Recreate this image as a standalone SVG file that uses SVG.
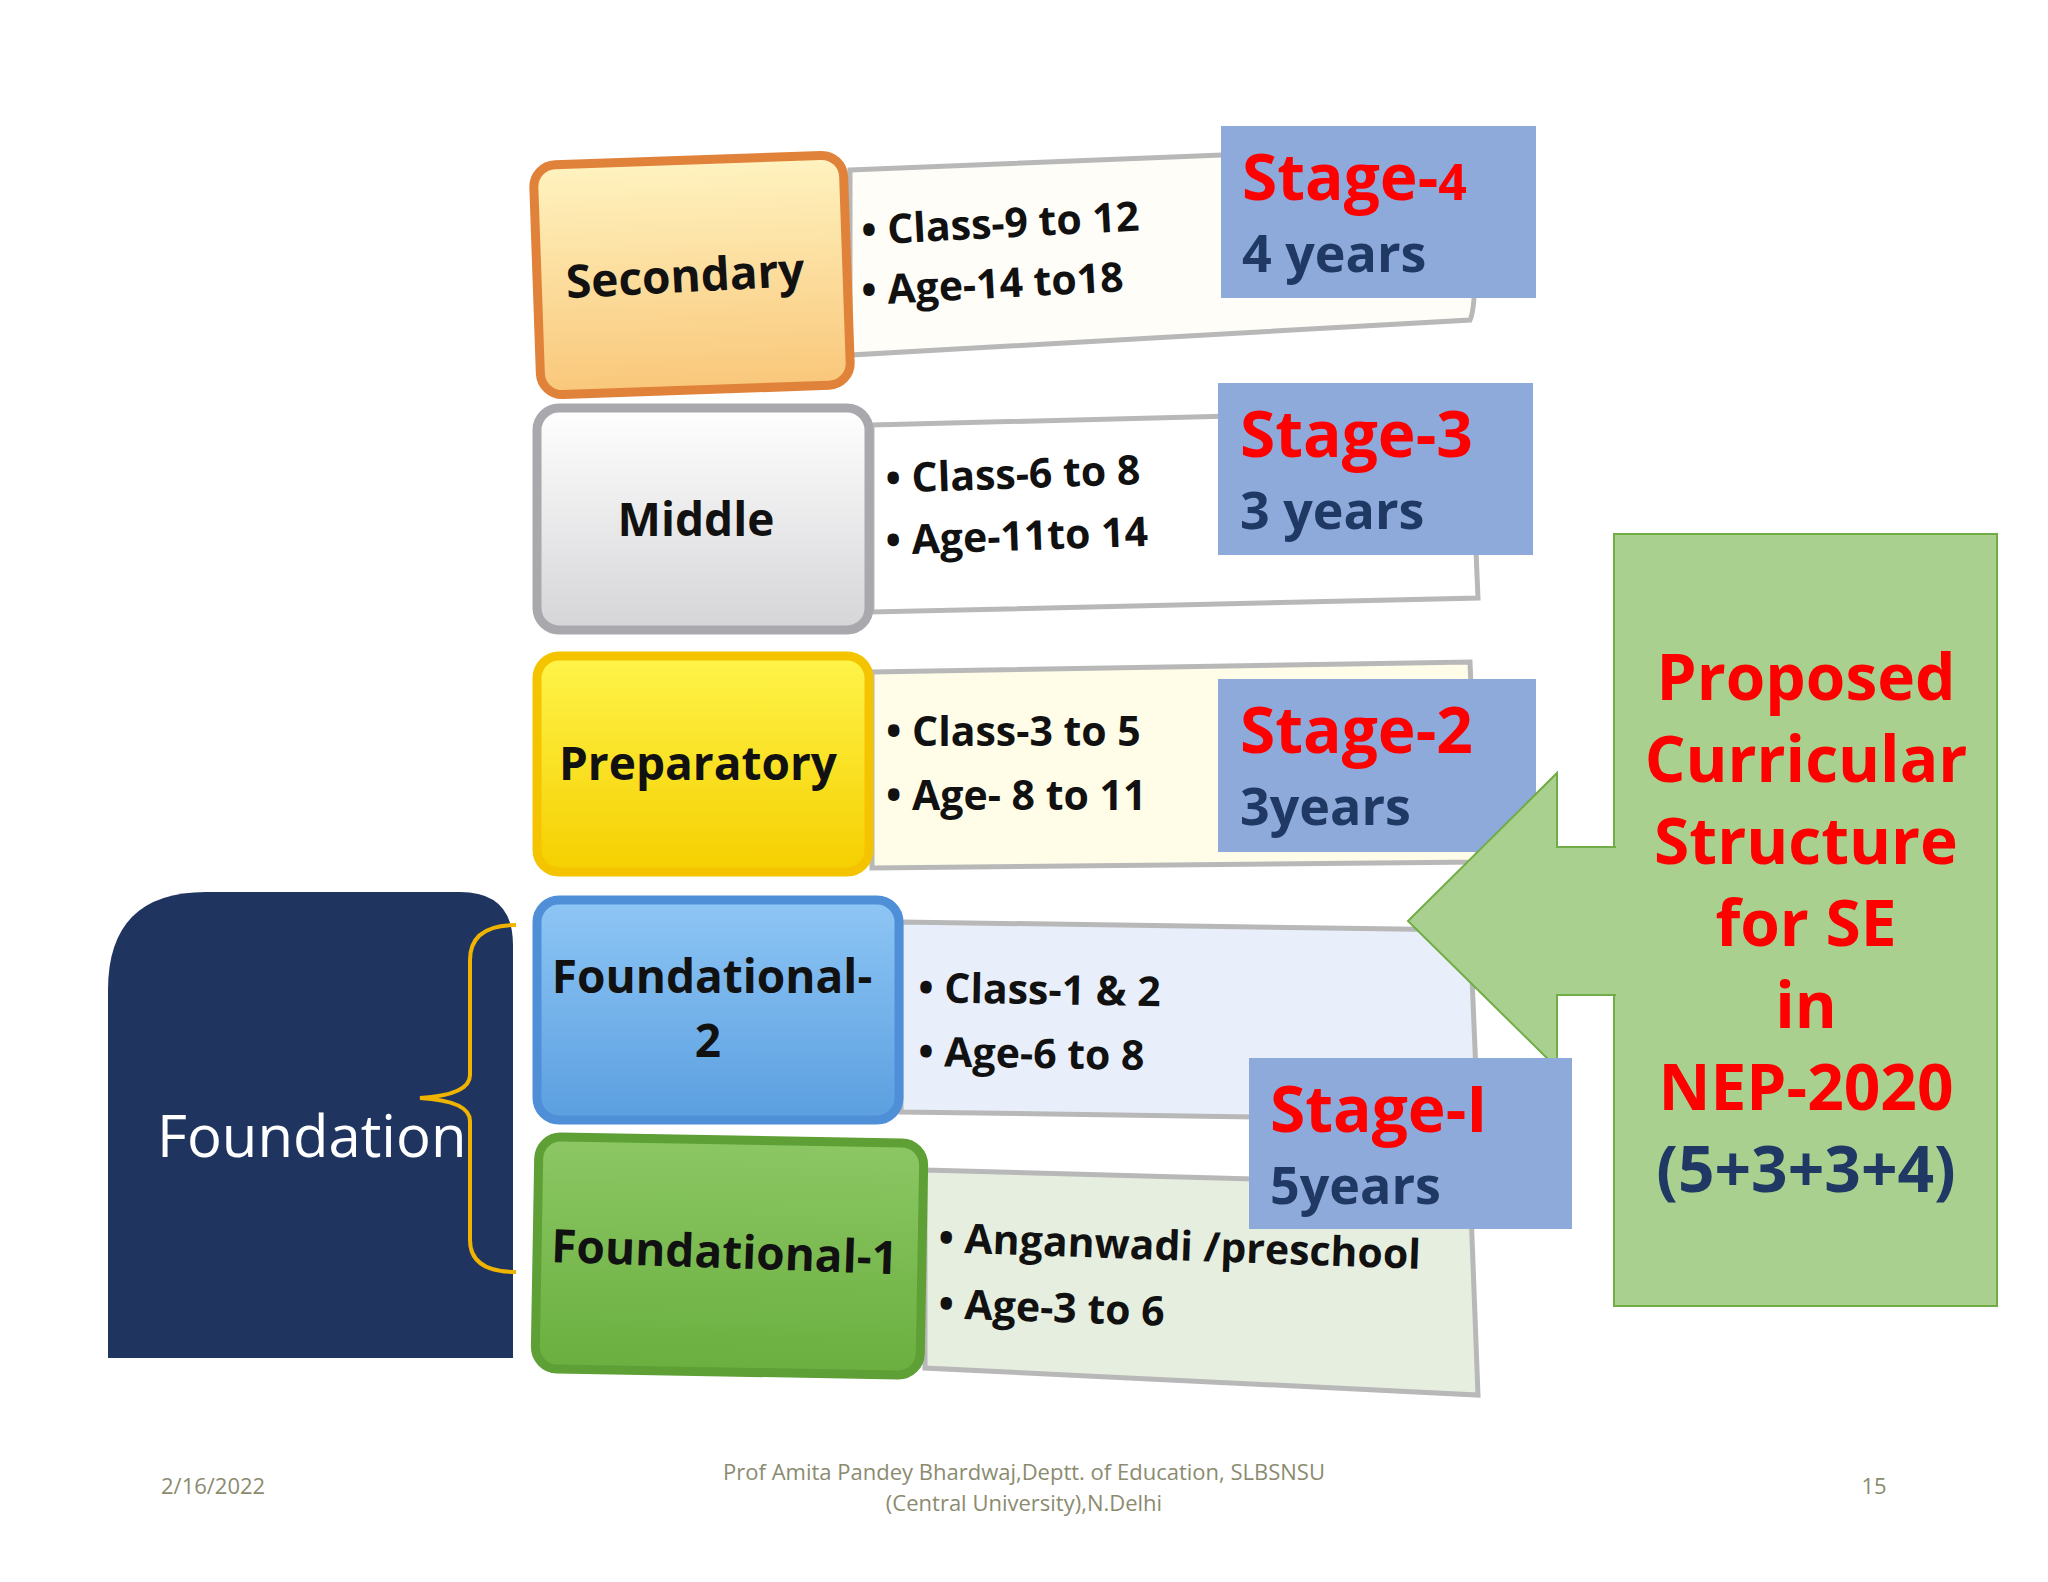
<svg xmlns="http://www.w3.org/2000/svg" width="2048" height="1582" viewBox="0 0 2048 1582">
<defs>
<linearGradient id="gOr" x1="0" y1="0" x2="0" y2="1"><stop offset="0" stop-color="#fff3c0"/><stop offset="1" stop-color="#f9c77a"/></linearGradient>
<linearGradient id="gGr" x1="0" y1="0" x2="0" y2="1"><stop offset="0" stop-color="#ffffff"/><stop offset="1" stop-color="#d5d5d8"/></linearGradient>
<linearGradient id="gYe" x1="0" y1="0" x2="0" y2="1"><stop offset="0" stop-color="#fff44a"/><stop offset="1" stop-color="#f5cf00"/></linearGradient>
<linearGradient id="gBl" x1="0" y1="0" x2="0" y2="1"><stop offset="0" stop-color="#8ec6f5"/><stop offset="1" stop-color="#5b9fe0"/></linearGradient>
<linearGradient id="gGn" x1="0" y1="0" x2="0" y2="1"><stop offset="0" stop-color="#8cc764"/><stop offset="1" stop-color="#6aaf3f"/></linearGradient>
</defs>
<style>
.bar{stroke:#b8b8b8;stroke-width:5}
.lbl{font-family:'Open Sans',sans-serif;font-weight:bold;font-size:46px;fill:#111;text-anchor:middle}
.bul{font-family:'Open Sans',sans-serif;font-weight:bold;font-size:41px;fill:#111}
.st{font-family:'Open Sans',sans-serif;font-weight:bold;font-size:64px;fill:#f00}
.yr{font-family:'Open Sans',sans-serif;font-weight:bold;font-size:52px;fill:#1f3864}
.sb{fill:#8eaadb}
.ft{font-family:'Open Sans',sans-serif;font-size:22px;fill:#8b8b70}
</style>
<rect width="2048" height="1582" fill="#fff"/>
<g id="foundation">
<path d="M108 1358 V990 Q108 892 206 892 H460 Q513 892 513 945 V1358 Z" fill="#1f3560"/>
<text x="157" y="1157" font-family="'Open Sans',sans-serif" font-size="58" fill="#fff">Foundation</text>
<path d="M516 925 Q470 925 470 960 V1075 Q470 1095 420 1098 Q470 1101 470 1121 V1240 Q470 1272 516 1272" fill="none" stroke="#f0b400" stroke-width="4"/>
</g>
<g id="secondary">
<path d="M850 170 L1470 145 Q1480 300 1470 320 L850 355 Z" fill="#fffdf8" class="bar"/>
<rect x="537" y="160" width="310" height="230" rx="22" fill="url(#gOr)" stroke="#e0823a" stroke-width="9" transform="rotate(-2 692 275)"/>
<text class="lbl" x="686" y="292" transform="rotate(-3 686 292)">Secondary</text>
<text class="bul" x="862" y="245" transform="rotate(-3 862 245)">• Class-9 to 12</text>
<text class="bul" x="862" y="305" transform="rotate(-3 862 305)">• Age-14 to18</text>
</g>
<g id="middle">
<path d="M872 425 L1470 410 L1478 598 L872 612 Z" fill="#ffffff" class="bar"/>
<rect x="537" y="408" width="332" height="222" rx="22" fill="url(#gGr)" stroke="#a9a9ad" stroke-width="9"/>
<text class="lbl" x="696" y="536">Middle</text>
<text class="bul" x="886" y="493" transform="rotate(-2 886 493)">• Class-6 to 8</text>
<text class="bul" x="886" y="555" transform="rotate(-2 886 555)">• Age-11to 14</text>
</g>
<g id="preparatory">
<path d="M872 672 L1470 662 L1478 862 L872 868 Z" fill="#fffde8" class="bar"/>
<rect x="537" y="656" width="332" height="216" rx="22" fill="url(#gYe)" stroke="#f5c400" stroke-width="9"/>
<text class="lbl" x="698" y="780">Preparatory</text>
<text class="bul" x="886" y="746">• Class-3 to 5</text>
<text class="bul" x="886" y="810">• Age- 8 to 11</text>
</g>
<g id="foundational2">
<path d="M901 922 L1470 930 L1478 1120 L901 1112 Z" fill="#e8eefa" class="bar"/>
<rect x="537" y="900" width="362" height="220" rx="22" fill="url(#gBl)" stroke="#4f8fd8" stroke-width="9"/>
<text class="lbl" x="712" y="993">Foundational-</text>
<text class="lbl" x="708" y="1057">2</text>
<text class="bul" x="918" y="1002" transform="rotate(1 918 1002)">• Class-1 &amp; 2</text>
<text class="bul" x="918" y="1066" transform="rotate(1 918 1066)">• Age-6 to 8</text>
</g>
<g id="foundational1">
<path d="M925 1170 L1470 1185 L1478 1395 L925 1368 Z" fill="#e6efdf" class="bar"/>
<rect x="537" y="1140" width="385" height="232" rx="22" fill="url(#gGn)" stroke="#5ea036" stroke-width="9" transform="rotate(1 729 1256)"/>
<text class="lbl" x="724" y="1268" transform="rotate(2 724 1268)">Foundational-1</text>
<text class="bul" x="938" y="1252" transform="rotate(2 938 1252)">• Anganwadi /preschool</text>
<text class="bul" x="938" y="1318" transform="rotate(2 938 1318)">• Age-3 to 6</text>
</g>
<g id="stage4"><rect class="sb" x="1221" y="126" width="315" height="172"/>
<text class="st" x="1242" y="200">Stage-<tspan font-size="50">4</tspan></text><text class="yr" x="1242" y="272">4 years</text></g>
<g id="stage3"><rect class="sb" x="1218" y="383" width="315" height="172"/>
<text class="st" x="1240" y="457">Stage-3</text><text class="yr" x="1240" y="529">3 years</text></g>
<g id="stage2"><rect class="sb" x="1218" y="679" width="318" height="173"/>
<text class="st" x="1240" y="753">Stage-2</text><text class="yr" x="1240" y="825">3years</text></g>
<g id="proposed">
<rect x="1614" y="534" width="383" height="772" fill="#a9d08e" stroke="#70ad47" stroke-width="2"/>
<path d="M1616 847 H1557 V773 L1408 921 L1557 1068 V995 H1616" fill="#a9d08e" stroke="#70ad47" stroke-width="2"/>
<g font-family="'Open Sans',sans-serif" font-weight="bold" font-size="64" text-anchor="middle" fill="#f00">
<text x="1806" y="700">Proposed</text><text x="1806" y="782">Curricular</text><text x="1806" y="864">Structure</text>
<text x="1806" y="946">for SE</text><text x="1806" y="1028">in</text><text x="1806" y="1110">NEP-2020</text>
<text x="1806" y="1192" fill="#1f3864">(5+3+3+4)</text></g>
</g>
<g id="stage1"><rect class="sb" x="1249" y="1058" width="323" height="171"/>
<text class="st" x="1270" y="1132">Stage-I</text><text class="yr" x="1270" y="1204">5years</text></g>
<g id="connectors"/>
<g id="footer">
<text class="ft" x="161" y="1494">2/16/2022</text>
<text class="ft" x="1024" y="1480" text-anchor="middle">Prof Amita Pandey Bhardwaj,Deptt. of Education, SLBSNSU</text>
<text class="ft" x="1024" y="1511" text-anchor="middle">(Central University),N.Delhi</text>
<text class="ft" x="1874" y="1494" text-anchor="middle">15</text>
</g>
</svg>
